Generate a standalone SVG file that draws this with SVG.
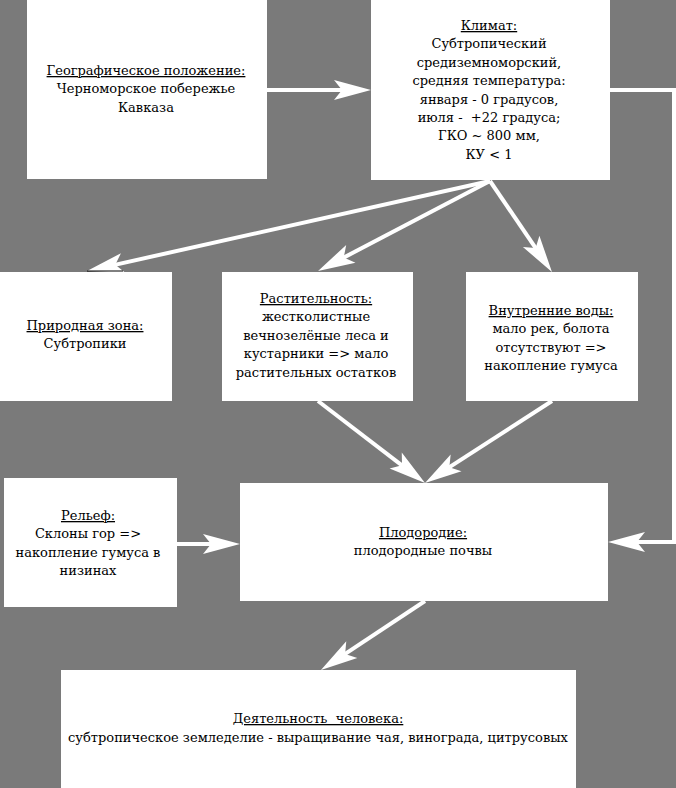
<svg xmlns="http://www.w3.org/2000/svg" width="676" height="788" viewBox="0 0 676 788">
<style>
.box{fill:#ffffff;}
text{font-family:'DejaVu Serif','Liberation Serif',serif;font-size:13px;fill:#000;text-anchor:middle;}
.t{text-decoration:underline;}
.c{fill:none;stroke:#ffffff;stroke-width:4;marker-end:url(#ah);}
</style>
<defs>
<marker id="ah" markerUnits="userSpaceOnUse" markerWidth="60" markerHeight="30" refX="0" refY="0" orient="auto" overflow="visible">
<path d="M25,0 L-12,-10 L-4,0 L-12,10 Z" fill="#ffffff"/>
</marker>
</defs>
<rect x="0" y="0" width="676" height="788" fill="#7a7a7a"/>

<g id="connectors">
<line class="c" x1="267" y1="90" x2="346" y2="90"/>
<polyline class="c" points="610,90 674,90 674,542 633,542"/>
<line class="c" x1="490" y1="181" x2="111.4" y2="265.6"/>
<line class="c" x1="490" y1="181" x2="340.2" y2="259.4"/>
<line class="c" x1="490" y1="181" x2="537.9" y2="251.3"/>
<line class="c" x1="318" y1="401" x2="405.2" y2="467.8"/>
<line class="c" x1="552" y1="401" x2="446" y2="469.4"/>
<line class="c" x1="177" y1="544" x2="215" y2="544"/>
<line class="c" x1="425" y1="601" x2="341.8" y2="656.2"/>
<line x1="87" y1="271" x2="123" y2="271" stroke="#000" stroke-width="1"/>
</g>

<g id="geo">
<rect class="box" x="27" y="0" width="240" height="179"/>
<text x="146" y="75" class="t">Географическое положение:</text>
<text x="146" y="93.4">Черноморское побережье</text>
<text x="146" y="111.8">Кавказа</text>
</g>

<g id="climate">
<rect class="box" x="371" y="0" width="239" height="180"/>
<text x="489" y="30" class="t">Климат:</text>
<text x="489" y="48.4">Субтропический</text>
<text x="489" y="66.8">средиземноморский,</text>
<text x="489" y="85.2">средняя температура:</text>
<text x="489" y="103.6">января - 0 градусов,</text>
<text x="489" y="122" xml:space="preserve">июля -  +22 градуса;</text>
<text x="489" y="140.4">ГКО ~ 800 мм,</text>
<text x="489" y="158.8">КУ &lt; 1</text>
</g>

<g id="zone">
<rect class="box" x="0" y="272" width="172" height="129"/>
<text x="85" y="330" class="t">Природная зона:</text>
<text x="85" y="348.4">Субтропики</text>
</g>

<g id="veg">
<rect class="box" x="222" y="272" width="191" height="129"/>
<text x="316" y="303" class="t">Растительность:</text>
<text x="316" y="321.4">жестколистные</text>
<text x="316" y="339.8">вечнозелёные леса и</text>
<text x="316" y="358.2">кустарники =&gt; мало</text>
<text x="316" y="376.6">растительных остатков</text>
</g>

<g id="water">
<rect class="box" x="466" y="272" width="172" height="129"/>
<text x="551" y="315" class="t">Внутренние воды:</text>
<text x="551" y="333.4">мало рек, болота</text>
<text x="551" y="351.8">отсутствуют =&gt;</text>
<text x="551" y="370.2">накопление гумуса</text>
</g>

<g id="relief">
<rect class="box" x="4" y="478" width="173" height="129"/>
<text x="88" y="520" class="t">Рельеф:</text>
<text x="88" y="538.4">Склоны гор =&gt;</text>
<text x="88" y="556.8">накопление гумуса в</text>
<text x="88" y="575.2">низинах</text>
</g>

<g id="fertility">
<rect class="box" x="240" y="483" width="368" height="118"/>
<text x="423" y="537" class="t">Плодородие:</text>
<text x="423" y="555.4">плодородные почвы</text>
</g>

<g id="human">
<rect class="box" x="61" y="670" width="515" height="118"/>
<text x="318" y="723" class="t" xml:space="preserve">Деятельность  человека:</text>
<text x="318" y="742">субтропическое земледелие - выращивание чая, винограда, цитрусовых</text>
</g>
</svg>
